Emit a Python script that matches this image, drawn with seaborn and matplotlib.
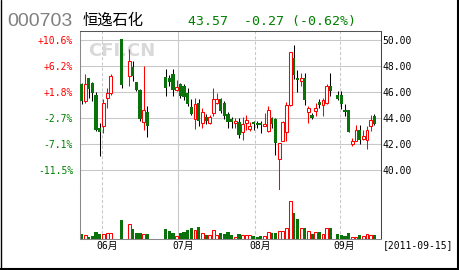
import numpy as np
import pandas as pd
import matplotlib
matplotlib.use("Agg")
import matplotlib.pyplot as plt
import matplotlib.transforms as mtransforms
from matplotlib.lines import Line2D
import seaborn as sns

# ---------------- data ----------------
stock_code = "000703"
stock_name = "恒逸石化"
last_price = "43.57"
change = "-0.27"
change_pct = "(-0.62%)"
date_label = "[2011-09-15]"

# trading-day slot index (gaps = no trading)
slots = [0, 1, 2, 3, 4, 5, 6, 7, 8,
         11, 13, 14, 15, 16, 17, 18,
         23, 24, 25, 26, 27, 28, 29, 30, 31, 32, 33, 34, 35, 36, 37, 38, 39, 40,
         41, 42, 43, 44, 45, 46, 47, 48, 49, 50, 51, 52, 53, 54, 55, 56, 57, 58,
         59, 60, 61, 62, 63, 64, 65, 66, 67, 68,
         70, 71, 72, 73, 74, 75, 76, 77, 78, 79, 80]
opens = [46.59, 45.31, 47.05, 46.70, 45.77, 43.20, 43.40, 45.56, 45.95,
         50.10, 47.23, 47.92, 46.77, 46.13, 43.70, 44.50,
         47.15, 47.05, 47.41, 46.13, 46.59, 46.46, 45.95, 44.85, 43.90, 45.18, 43.64, 44.08, 43.64, 44.41, 45.18, 45.44, 45.18, 44.28,
         43.90, 43.64, 43.70, 42.90, 43.64, 43.15, 43.69, 43.65, 43.60, 43.40, 43.00, 43.97, 43.90, 40.82, 42.25, 42.95, 45.00, 48.60,
         47.05, 46.85, 47.10, 44.46, 44.23, 44.54, 45.26, 45.00, 45.18, 46.46,
         45.77, 45.77, 44.60, 44.60, 41.97, 42.23, 43.05, 42.36, 42.28, 43.38, 44.15]
highs = [46.70, 47.36, 47.10, 46.80, 46.00, 43.64, 45.44, 46.33, 47.36,
         50.10, 49.28, 48.38, 46.80, 46.20, 48.00, 44.90,
         47.74, 47.30, 47.74, 46.90, 46.70, 46.60, 46.33, 45.44, 45.56, 45.44, 44.80, 44.30, 44.20, 46.28, 45.95, 45.56, 45.30, 44.50,
         44.10, 44.00, 44.00, 44.10, 44.20, 43.70, 43.80, 43.75, 43.80, 44.40, 44.95, 44.10, 44.00, 42.10, 43.80, 45.20, 49.05, 49.60,
         47.70, 47.50, 47.50, 44.92, 44.41, 45.18, 45.44, 45.56, 46.64, 47.49,
         46.08, 46.08, 45.05, 44.60, 42.50, 43.46, 43.46, 43.05, 43.38, 44.23, 44.28]
lows = [45.05, 45.18, 45.56, 45.30, 43.00, 41.05, 42.87, 44.80, 45.80,
        46.30, 46.46, 46.85, 46.05, 43.77, 43.05, 42.54,
        45.69, 46.50, 45.69, 46.10, 45.55, 45.40, 44.92, 44.20, 43.13, 43.38, 43.26, 43.51, 43.55, 44.15, 45.05, 44.41, 43.90, 43.26,
        43.20, 43.20, 42.50, 42.30, 43.10, 43.00, 43.10, 43.20, 42.85, 43.35, 42.95, 43.20, 41.15, 38.50, 42.20, 42.20, 44.90, 47.00,
        46.00, 46.50, 45.00, 43.64, 43.90, 44.15, 44.80, 44.15, 45.05, 45.69,
        45.40, 44.67, 44.15, 42.95, 41.85, 42.20, 41.97, 42.30, 41.59, 43.00, 43.50]
closes = [45.31, 46.59, 46.20, 45.95, 43.08, 42.95, 45.18, 45.95, 47.20,
          46.55, 48.38, 47.23, 46.13, 43.90, 44.60, 43.40,
          46.33, 46.80, 46.13, 46.38, 45.69, 45.60, 45.10, 44.28, 45.10, 43.77, 44.46, 43.77, 44.08, 45.44, 45.50, 44.54, 44.15, 43.72,
          43.70, 43.77, 42.70, 43.56, 43.82, 43.40, 43.51, 43.50, 43.45, 43.56, 44.60, 43.56, 42.05, 42.05, 43.67, 45.00, 49.05, 47.30,
          46.90, 47.05, 45.40, 44.74, 44.03, 44.74, 45.00, 45.36, 46.46, 46.08,
          45.44, 45.10, 44.46, 42.95, 42.23, 43.05, 42.28, 42.60, 43.05, 43.84, 43.57]
volumes = [5.3, 4.3, 2.7, 3.7, 7.3, 5.3, 5.3, 6.0, 6.0,
           19.3, 15.3, 10.3, 6.7, 6.0, 5.3, 5.3,
           10.3, 8.7, 6.0, 3.3, 6.0, 7.7, 9.3, 11.0, 9.3, 12.7, 6.7, 4.3, 4.3, 9.3, 4.3, 6.7, 5.3, 7.7,
           4.3, 2.7, 5.3, 4.3, 4.3, 4.3, 3.3, 2.7, 3.3, 3.3, 7.0, 6.0, 6.0, 8.3, 8.3, 11.0, 38.3, 26.7,
           20.3, 11.0, 11.0, 8.3, 5.3, 7.7, 7.7, 5.3, 11.0, 11.0,
           5.3, 4.3, 3.7, 6.0, 2.7, 2.7, 4.3, 3.3, 5.0, 4.5, 4.3]

price_ticks = [40, 42, 44, 46, 48, 50]
price_labels = ["40.00", "42.00", "44.00", "46.00", "48.00", "50.00"]
pct_labels = ["-11.5%", "-7.1%", "-2.7%", "+1.8%", "+6.2%", "+10.6%"]
month_bounds = [5.5, 26.5, 47.5, 70.5]
month_labels = ["06月", "07月", "08月", "09月"]
month_numbers = [6, 7, 8, 9]

# ---------------- styling ----------------
sns.set_theme(style="white")
plt.rcParams["font.family"] = ["DejaVu Sans Mono", "Noto Sans CJK SC"]

GREEN = "#0a720a"
RED = "#ff0000"
GRID = "#c8c8c8"

W, H = 460, 270
fig = plt.figure(figsize=(W / 100, H / 100), dpi=100)
fig.patch.set_facecolor("white")


def fx(px):
    return px / W


def fy(py):
    return 1 - py / H


L, R = 80, 381
ax = fig.add_axes([fx(L), fy(190), fx(R) - fx(L), fy(31) - fy(190)])
axv = fig.add_axes([fx(L), fy(239.3), fx(R) - fx(L), fy(190) - fy(239.3)])

df = pd.DataFrame(dict(slot=slots, open=opens, high=highs, low=lows,
                       close=closes, volume=volumes))
df["up"] = df["close"] >= df["open"]
up = df[df["up"]]
dn = df[~df["up"]]

# ---- grid
ax.set_yticks(price_ticks)
ax.yaxis.grid(True, color=GRID, lw=0.75)
ax.xaxis.grid(False)
ax.set_axisbelow(True)
for b, m in zip(month_bounds, month_numbers):
    ls = "-" if m in (1, 4, 7, 10) else (0, (3, 2))
    for a in (ax, axv):
        a.axvline(b, color=GRID, lw=0.75, ls=ls, zorder=0.5)

# ---- watermark
ax.text(fx(88), fy(56), "CFI.CN", transform=fig.transFigure, family="DejaVu Sans",
        fontweight="bold", fontsize=13, color="#d9d9d9", zorder=1)

# ---- candles
ax.vlines(dn["slot"], dn["low"], dn["high"], color="black", lw=0.75, zorder=2)
ax.bar(dn["slot"], (dn["open"] - dn["close"]).clip(lower=0.06), bottom=dn["close"],
       width=0.9, color=GREEN, lw=0, zorder=3)
ax.vlines(up["slot"], up["low"], up["open"], color=RED, lw=0.75, zorder=2)
ax.vlines(up["slot"], up["close"], up["high"], color=RED, lw=0.75, zorder=2)
ax.bar(up["slot"], (up["close"] - up["open"]).clip(lower=0.06), bottom=up["open"],
       width=0.78, facecolor="white", edgecolor=RED, lw=0.75, zorder=3)

# ---- volume (seaborn)
sns.barplot(data=dn, x="slot", y="volume", native_scale=True, color=GREEN,
            saturation=1, width=0.9, errorbar=None, ax=axv, linewidth=0)
sns.barplot(data=up, x="slot", y="volume", native_scale=True, color="white",
            saturation=1, width=0.78, errorbar=None, ax=axv,
            edgecolor=RED, linewidth=0.75)

# ---- limits
xl = (-0.41, 81.83)
ax.set_xlim(xl)
axv.set_xlim(xl)
ax.set_ylim(50 - 150 / 13, 50 + 9 / 13)
axv.set_ylim(0, 49.3)
axv.set_xlabel("")
axv.set_ylabel("")
ax.set_xticks([])
axv.set_yticks([])

# ---- left percent labels
ax.set_yticklabels(pct_labels)
ax.tick_params(axis="y", length=0, pad=5, labelsize=7)
for lbl, txt in zip(ax.get_yticklabels(), pct_labels):
    lbl.set_color(RED if txt.startswith("+") else "#008000")

# ---- right price labels
ax2 = ax.twinx()
ax2.set_ylim(ax.get_ylim())
ax2.set_yticks(price_ticks)
ax2.set_yticklabels(price_labels)
ax2.tick_params(axis="y", length=0, pad=0.8, labelsize=7, labelcolor="black")
ax2.grid(False)
for s in ax2.spines.values():
    s.set_visible(False)

# ---- month labels
axv.set_xticks(month_bounds)
axv.set_xticklabels(month_labels)
axv.tick_params(axis="x", length=0, pad=1.0, labelsize=7, labelcolor="black")
off = mtransforms.ScaledTranslation(5 / 100, 0, fig.dpi_scale_trans)
for lbl in axv.get_xticklabels():
    lbl.set_transform(lbl.get_transform() + off)

# ---- spines
dot = (0, (1, 1))
for a in (ax, axv):
    for s in a.spines.values():
        s.set_linewidth(0.75)
        s.set_linestyle(dot)
ax.spines["bottom"].set_visible(False)
axv.spines["top"].set_visible(False)
ax.spines["top"].set_color("#555555")
ax.spines["left"].set_color("#888888")
ax.spines["right"].set_color("#444444")
axv.spines["left"].set_color("#888888")
axv.spines["right"].set_color("#444444")
axv.spines["bottom"].set_color("#888888")
for a in (ax, axv):
    a.set_facecolor("none")

# ---- header
fig.text(fx(7), fy(26), stock_code, family="Liberation Sans", fontsize=14,
         color="#808080", va="baseline")
fig.text(fx(83), fy(24.5), stock_name, family="Noto Sans CJK SC", fontsize=11,
         color="black", va="baseline")
fig.text(fx(188), fy(25), f"{last_price}  {change} {change_pct}",
         family="DejaVu Sans Mono", fontsize=9.5, color="#008000", va="baseline")
fig.text(fx(383), fy(245.5), date_label, family="DejaVu Sans Mono", fontsize=7,
         color="black", va="center")

# ---- outer frame
fig.add_artist(Line2D([fx(0.5), fx(0.5)], [fy(0), fy(268.5)], color="black", lw=1,
                      transform=fig.transFigure))
fig.add_artist(Line2D([fx(0), fx(459)], [fy(268.8), fy(268.8)], color="black", lw=1.5,
                      transform=fig.transFigure))
fig.add_artist(Line2D([fx(458.2), fx(458.2)], [fy(0), fy(269)], color="black", lw=1.5,
                      transform=fig.transFigure))

fig.savefig("out.png", dpi=100, facecolor="white")
